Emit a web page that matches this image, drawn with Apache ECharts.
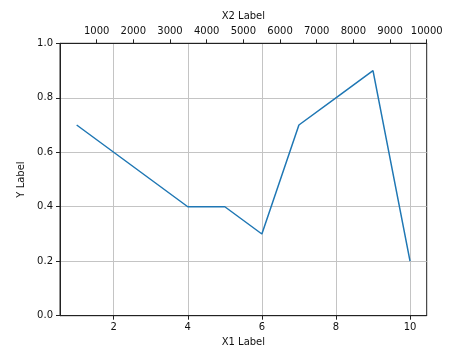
<!DOCTYPE html>
<html><head><meta charset="utf-8">
<script src="https://cdn.jsdelivr.net/npm/echarts@6/dist/echarts.min.js"></script>
<style>html,body{margin:0;padding:0;background:#fff}#c{width:474px;height:355px}</style>
</head><body><div id="c"></div>
<script>
const xValues = [1, 2, 3, 4, 5, 6, 7, 8, 9, 10];
const yValues = [0.7, 0.6, 0.5, 0.4, 0.4, 0.3, 0.7, 0.8, 0.9, 0.2];
const x1Ticks = [2, 4, 6, 8, 10];
const x2Ticks = [1000, 2000, 3000, 4000, 5000, 6000, 7000, 8000, 9000, 10000];

const font = 'DejaVu Sans';
const txt = '#111';
const fs = 10;
const chart = echarts.init(document.getElementById('c'), null, {renderer: 'canvas'});
chart.setOption({
  animation: false,
  grid: {left: 60, right: 47.3, top: 43.3, bottom: 39.3, show: true, borderColor: '#222', borderWidth: 1, backgroundColor: 'transparent'},
  xAxis: [{
    type: 'value', position: 'bottom', min: 0.55, max: 10.45,
    name: 'X1 Label', nameLocation: 'middle', nameGap: 19,
    nameTextStyle: {fontFamily: font, fontSize: fs, color: txt},
    axisLine: {show: true, onZero: false, lineStyle: {color: '#222', width: 1}},
    axisTick: {show: true, length: 4, customValues: x1Ticks, lineStyle: {color: '#222'}},
    axisLabel: {customValues: x1Ticks, margin: 7, fontFamily: font, fontSize: fs, color: txt, formatter: v => String(v)},
    splitLine: {show: true, lineStyle: {color: '#c4c4c4', width: 1}}
  }, {
    type: 'value', position: 'top', min: 0, max: 10000,
    name: 'X2 Label', nameLocation: 'middle', nameGap: 21,
    nameTextStyle: {fontFamily: font, fontSize: fs, color: txt},
    axisLine: {show: true, onZero: false, lineStyle: {color: '#222', width: 1}},
    axisTick: {show: true, length: 4, customValues: x2Ticks, lineStyle: {color: '#222'}},
    axisLabel: {customValues: x2Ticks, margin: 7, fontFamily: font, fontSize: fs, color: txt, formatter: v => String(v)},
    splitLine: {show: false}
  }],
  yAxis: [{
    type: 'value', min: 0, max: 1, interval: 0.2,
    name: 'Y Label', nameLocation: 'middle', nameGap: 21,
    nameTextStyle: {fontFamily: font, fontSize: fs, color: txt},
    axisLine: {show: true, lineStyle: {color: '#222', width: 1}},
    axisTick: {show: true, length: 4, lineStyle: {color: '#222'}},
    axisLabel: {margin: 7, fontFamily: font, fontSize: fs, color: txt, formatter: v => v.toFixed(1)},
    splitLine: {show: true, lineStyle: {color: '#c4c4c4', width: 1}}
  }],
  series: [{
    type: 'line', xAxisIndex: 0, yAxisIndex: 0,
    data: xValues.map((x, i) => [x, yValues[i]]),
    showSymbol: false, symbol: 'none',
    lineStyle: {color: '#1f77b4', width: 1.5}
  }]
});
</script></body></html>
